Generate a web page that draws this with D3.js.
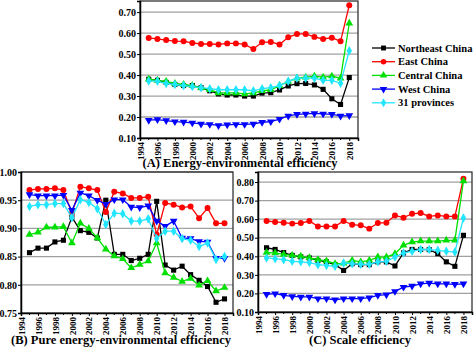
<!DOCTYPE html>
<html>
<head>
<meta charset="utf-8">
<script src="https://cdn.jsdelivr.net/npm/d3@7"></script>
<style>
  html, body { margin: 0; padding: 0; background: #fff; }
  svg { display: block; }
  text { font-family: "Liberation Serif", "Times New Roman", serif; }
</style>
</head>
<body>
<div id="chart"></div>
<script>
// #region Data
const years = d3.range(1995, 2019);
const seriesNames = ['Northeast China', 'East China', 'Central China', 'West China', '31 provinces'];
const seriesColors = ['#000000', '#ff0000', '#00e000', '#0000ff', '#22e6ff'];
const seriesSymbols = [d3.symbolSquare, d3.symbolCircle, d3.symbolTriangle, 'down', d3.symbolDiamond];

// (A) Energy-environmental efficiency
const effNortheast = [0.380, 0.375, 0.365, 0.355, 0.350, 0.350, 0.340, 0.325, 0.310, 0.305, 0.305, 0.300, 0.300, 0.314, 0.316, 0.329, 0.348, 0.359, 0.360, 0.353, 0.332, 0.287, 0.260, 0.388];
const effEast = [0.577, 0.572, 0.567, 0.562, 0.561, 0.553, 0.548, 0.548, 0.546, 0.551, 0.551, 0.546, 0.524, 0.556, 0.558, 0.546, 0.580, 0.596, 0.596, 0.582, 0.572, 0.578, 0.561, 0.733];
const effCentral = [0.380, 0.375, 0.370, 0.360, 0.355, 0.350, 0.340, 0.330, 0.315, 0.315, 0.315, 0.310, 0.315, 0.325, 0.330, 0.350, 0.370, 0.385, 0.390, 0.395, 0.390, 0.395, 0.385, 0.647];
const effWest = [0.185, 0.188, 0.183, 0.178, 0.176, 0.172, 0.167, 0.165, 0.160, 0.163, 0.165, 0.165, 0.167, 0.175, 0.178, 0.190, 0.205, 0.213, 0.215, 0.217, 0.215, 0.213, 0.205, 0.207];
const effAll = [0.372, 0.370, 0.360, 0.355, 0.350, 0.345, 0.340, 0.335, 0.330, 0.330, 0.330, 0.330, 0.325, 0.335, 0.340, 0.350, 0.370, 0.385, 0.385, 0.385, 0.375, 0.375, 0.361, 0.516];

// (B) Pure energy-environmental efficiency
const pureNortheast = [0.857, 0.865, 0.865, 0.876, 0.879, 0.920, 0.896, 0.893, 0.883, 0.950, 0.854, 0.854, 0.843, 0.847, 0.854, 0.948, 0.835, 0.826, 0.833, 0.818, 0.808, 0.797, 0.769, 0.775];
const pureEast = [0.968, 0.970, 0.970, 0.971, 0.968, 0.927, 0.974, 0.971, 0.968, 0.929, 0.965, 0.962, 0.954, 0.954, 0.956, 0.889, 0.945, 0.942, 0.937, 0.939, 0.918, 0.936, 0.909, 0.909];
const pureCentral = [0.889, 0.893, 0.902, 0.902, 0.903, 0.874, 0.909, 0.900, 0.883, 0.863, 0.851, 0.846, 0.830, 0.836, 0.842, 0.874, 0.821, 0.813, 0.806, 0.811, 0.799, 0.807, 0.789, 0.795];
const pureWest = [0.960, 0.958, 0.958, 0.958, 0.959, 0.932, 0.963, 0.958, 0.950, 0.943, 0.951, 0.951, 0.938, 0.937, 0.940, 0.913, 0.904, 0.913, 0.883, 0.882, 0.877, 0.876, 0.847, 0.847];
const pureAll = [0.939, 0.942, 0.942, 0.944, 0.944, 0.919, 0.951, 0.946, 0.935, 0.907, 0.927, 0.926, 0.913, 0.913, 0.917, 0.882, 0.895, 0.895, 0.882, 0.879, 0.868, 0.874, 0.845, 0.850];

// (C) Scale efficiency
const scaleNortheast = [0.446, 0.437, 0.420, 0.405, 0.397, 0.391, 0.378, 0.370, 0.355, 0.324, 0.360, 0.355, 0.355, 0.370, 0.370, 0.348, 0.418, 0.437, 0.437, 0.436, 0.414, 0.370, 0.346, 0.513];
const scaleEast = [0.590, 0.585, 0.581, 0.576, 0.579, 0.590, 0.561, 0.561, 0.561, 0.590, 0.570, 0.567, 0.549, 0.579, 0.581, 0.620, 0.608, 0.629, 0.633, 0.615, 0.620, 0.615, 0.615, 0.818];
const scaleCentral = [0.420, 0.418, 0.410, 0.405, 0.400, 0.392, 0.382, 0.375, 0.360, 0.362, 0.378, 0.370, 0.378, 0.396, 0.396, 0.414, 0.459, 0.477, 0.482, 0.482, 0.482, 0.486, 0.486, 0.805];
const scaleWest = [0.195, 0.199, 0.190, 0.184, 0.181, 0.181, 0.172, 0.172, 0.166, 0.172, 0.172, 0.172, 0.177, 0.190, 0.193, 0.211, 0.234, 0.240, 0.252, 0.256, 0.252, 0.252, 0.249, 0.252];
const scaleAll = [0.391, 0.387, 0.382, 0.373, 0.370, 0.366, 0.355, 0.351, 0.346, 0.364, 0.360, 0.357, 0.357, 0.370, 0.373, 0.396, 0.418, 0.427, 0.437, 0.436, 0.432, 0.427, 0.423, 0.606];

const yearTicks = d3.range(1994, 2019, 2);
// #endregion

// #region Setup SVG
const width = 474;
const height = 347;
const font = '"Liberation Serif", "Times New Roman", serif';
const svg = d3.select('#chart').append('svg')
  .attr('width', width)
  .attr('height', height)
  .attr('font-family', font);
// #endregion

function markerPath(sym, size) {
  if (sym === 'down') {
    return d3.symbol().type(d3.symbolTriangle).size(size)();
  }
  return d3.symbol().type(sym).size(size)();
}

function drawPanel(cfg) {
  const { left, right, top, bottom, yDomain, yTicks, yFormat, series, title, titleX, titleY } = cfg;
  const x = d3.scaleLinear().domain([1994, 2019]).range([left, right]);
  const y = d3.scaleLinear().domain(yDomain).range([bottom, top]);
  const g = svg.append('g');

  // gridlines
  g.append('g')
    .selectAll('line')
    .data(yTicks.slice(1))
    .join('line')
    .attr('x1', left).attr('x2', right)
    .attr('y1', d => y(d)).attr('y2', d => y(d))
    .attr('stroke', '#a0a0a0')
    .attr('stroke-width', 1.3);

  // frame
  g.append('rect')
    .attr('x', left).attr('y', top)
    .attr('width', right - left).attr('height', bottom - top)
    .attr('fill', 'none')
    .attr('stroke', '#222')
    .attr('stroke-width', 1.2);

  // y axis
  const yAxis = g.append('g')
    .attr('transform', `translate(${left},0)`)
    .call(d3.axisLeft(y).tickValues(yTicks).tickFormat(d3.format(yFormat)).tickSize(3).tickPadding(1));
  yAxis.attr('font-family', font);
  yAxis.select('.domain').attr('stroke', '#000').attr('stroke-width', 1.5);
  yAxis.selectAll('text')
    .style('font-weight', 'bold')
    .style('font-size', '10px')
    .attr('fill', '#000');

  // x axis
  const xAxis = g.append('g')
    .attr('transform', `translate(0,${bottom})`)
    .call(d3.axisBottom(x).tickValues(yearTicks).tickFormat(d3.format('d')).tickSize(3));
  xAxis.attr('font-family', font);
  xAxis.select('.domain').attr('stroke', '#000').attr('stroke-width', 1.5);
  xAxis.selectAll('text')
    .attr('transform', 'rotate(-90)')
    .attr('x', -4)
    .attr('y', 0)
    .attr('dy', '0.35em')
    .style('text-anchor', 'end')
    .style('font-weight', 'bold')
    .style('font-size', '9px')
    .attr('fill', '#000');
  g.append('g')
    .selectAll('line')
    .data(years.filter(d => d % 2 === 1))
    .join('line')
    .attr('x1', d => x(d)).attr('x2', d => x(d))
    .attr('y1', bottom).attr('y2', bottom + 2)
    .attr('stroke', '#000');

  // series
  const line = d3.line().x((d, i) => x(years[i])).y(d => y(d));
  series.forEach((values, k) => {
    const sg = g.append('g');
    sg.append('path')
      .datum(values)
      .attr('d', line)
      .attr('fill', 'none')
      .attr('stroke', seriesColors[k])
      .attr('stroke-width', 1.3);
    sg.selectAll('path.m')
      .data(values)
      .join('path')
      .attr('class', 'm')
      .attr('d', markerPath(seriesSymbols[k], k === 1 ? 28 : 26))
      .attr('transform', (d, i) => `translate(${x(years[i])},${y(d)})` + (seriesSymbols[k] === 'down' ? ' rotate(180)' : ''))
      .attr('fill', seriesColors[k]);
  });

  // title
  svg.append('text')
    .attr('x', titleX)
    .attr('y', titleY)
    .attr('text-anchor', 'middle')
    .style('font-weight', 'bold')
    .style('font-size', '12.5px')
    .text(title);
}

drawPanel({
  left: 140, right: 358, top: 1, bottom: 138,
  yDomain: [0.1, 0.753], yTicks: [0.1, 0.2, 0.3, 0.4, 0.5, 0.6, 0.7], yFormat: '.2f',
  series: [effNortheast, effEast, effCentral, effWest, effAll],
  title: '(A) Energy-environmental efficiency', titleX: 240, titleY: 167,
});

drawPanel({
  left: 21, right: 233, top: 172, bottom: 313,
  yDomain: [0.75, 1.0], yTicks: [0.75, 0.8, 0.85, 0.9, 0.95, 1.0], yFormat: '.2f',
  series: [pureNortheast, pureEast, pureCentral, pureWest, pureAll],
  title: '(B) Pure energy-environmental efficiency', titleX: 121, titleY: 344,
});

drawPanel({
  left: 258, right: 472, top: 172, bottom: 312,
  yDomain: [0.1, 0.854], yTicks: [0.1, 0.2, 0.3, 0.4, 0.5, 0.6, 0.7, 0.8], yFormat: '.2f',
  series: [scaleNortheast, scaleEast, scaleCentral, scaleWest, scaleAll],
  title: '(C) Scale efficiency', titleX: 360, titleY: 344,
});

// #region Legend
const legend = svg.append('g').attr('transform', 'translate(372,48)');
const legendRows = legend.selectAll('g')
  .data(seriesNames)
  .join('g')
  .attr('transform', (d, i) => `translate(0,${i * 13.7})`);
legendRows.append('line')
  .attr('x1', 0).attr('x2', 23)
  .attr('stroke', (d, i) => seriesColors[i])
  .attr('stroke-width', 1.3);
legendRows.append('path')
  .attr('d', (d, i) => markerPath(seriesSymbols[i], 24))
  .attr('transform', (d, i) => 'translate(11.5,0)' + (seriesSymbols[i] === 'down' ? ' rotate(180)' : ''))
  .attr('fill', (d, i) => seriesColors[i]);
legendRows.append('text')
  .attr('x', 26)
  .attr('dy', '0.35em')
  .attr('font-family', font)
  .style('font-weight', 'bold')
  .style('font-size', '10.5px')
  .text(d => d);
// #endregion
</script>
</body>
</html>
